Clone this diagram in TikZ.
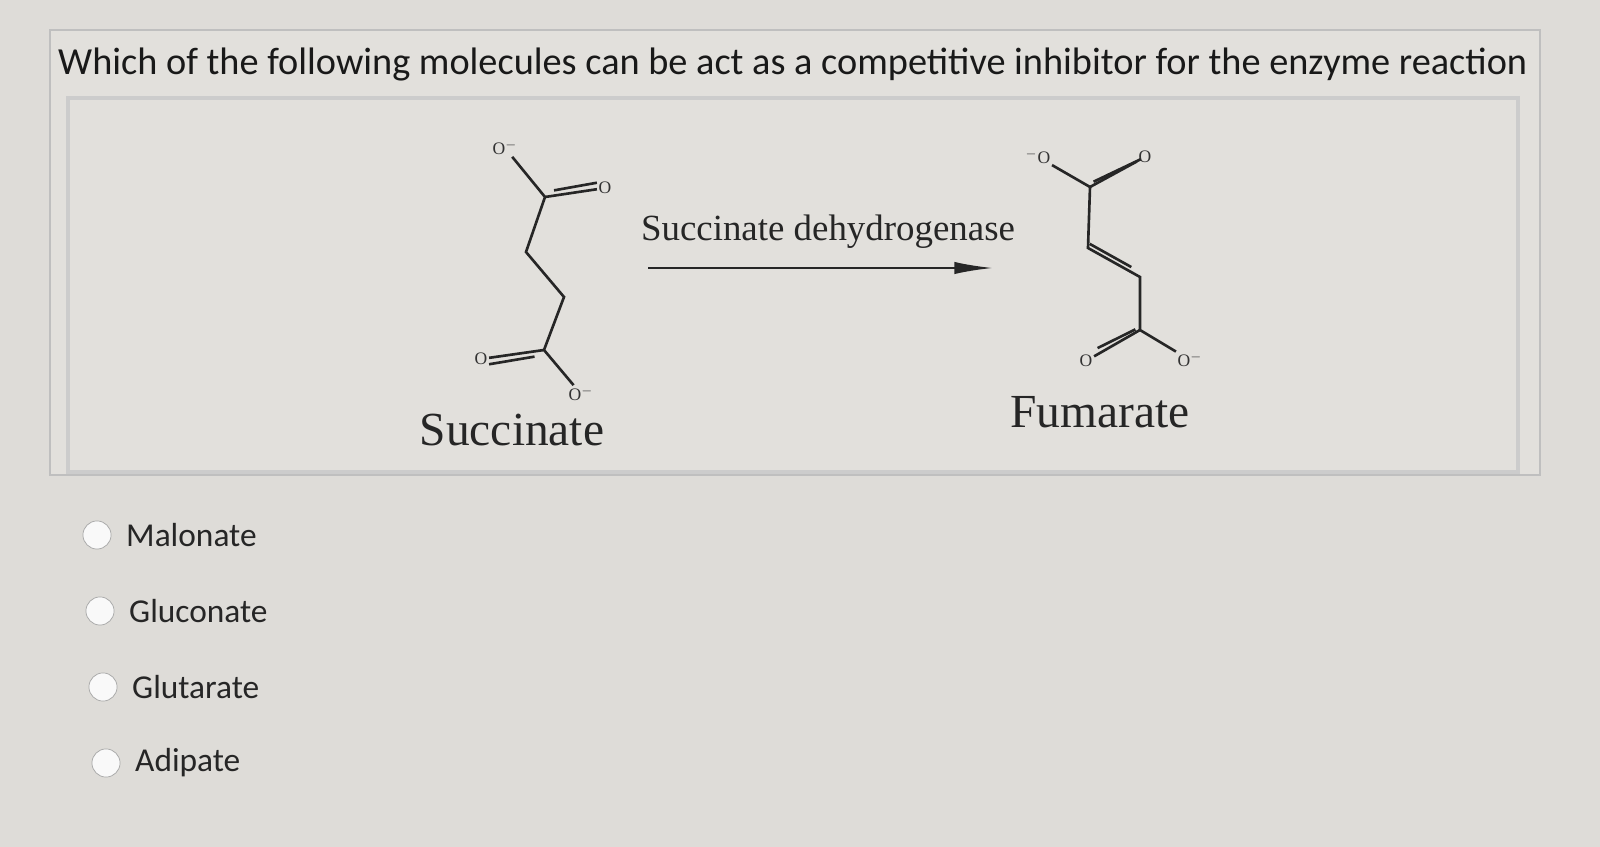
\documentclass[tikz,border=0pt]{standalone}
\usepackage{fontspec}
\setmainfont{Liberation Serif}
\newfontfamily\qfont{Carlito}
\usetikzlibrary{arrows.meta,calc}
\begin{document}
\begin{tikzpicture}[x=0.02cm,y=-0.02cm,
  bond/.style={line width=1.5pt,black!85},
  atom/.style={font=\fontsize{10}{10}\selectfont,inner sep=0.8pt,text=black!80},
  opt/.style={circle,draw=black!35,fill=white!95!gray,minimum size=16pt,inner sep=0},
  optlab/.style={font=\qfont\fontsize{19}{19}\selectfont,anchor=west,text=black!85},
  lab/.style={font=\fontsize{27}{27}\selectfont,text=black!85}]
\useasboundingbox (0,0) rectangle (1600,847);
\fill[fill={rgb,255:red,222;green,220;blue,216}] (0,0) rectangle (1600,847);
\draw[draw=black!25,line width=1pt,fill={rgb,255:red,226;green,224;blue,220}] (50,30) rectangle (1540,475);
\draw[draw=black!20,line width=2pt] (68,98) rectangle (1518,472);
\node[font=\qfont\fontsize{21.8}{22}\selectfont,anchor=west,text=black!90] (q) at (52,65) {Which of the following molecules can be act as a competitive inhibitor for the enzyme reaction};
% succinate
\coordinate (s1) at (545,197); \coordinate (s2) at (526,252);
\coordinate (s3) at (564,297); \coordinate (s4) at (544,350);
\node[atom] (so1) at (505,148) {O$^{-}$};
\node[atom] (so2) at (605,188) {O};
\node[atom] (so3) at (481,359) {O};
\node[atom] (so4) at (581,394) {O$^{-}$};
\draw[bond] (so1) -- (s1) -- (s2) -- (s3) -- (s4) -- (so4);
\draw[bond] (s1) -- (so2);
\draw[bond] ([yshift=3pt]$(s1)!0.15!(so2)$) -- ([yshift=3pt]so2.west);
\draw[bond] (s4) -- (so3);
\draw[bond] ([yshift=-3pt]$(s4)!0.15!(so3)$) -- ([yshift=-3pt]so3.east);
\node[lab] (sl) at (512,430) {Succinate};
% fumarate
\coordinate (f1) at (1090,187); \coordinate (f2) at (1088,248);
\coordinate (f3) at (1140,277); \coordinate (f4) at (1140,330);
\node[atom] (fo1) at (1038,157) {$^{-}$O};
\node[atom] (fo2) at (1145,157) {O};
\node[atom] (fo3) at (1086,361) {O};
\node[atom] (fo4) at (1190,360) {O$^{-}$};
\draw[bond] (fo1) -- (f1) -- (f2) -- (f3) -- (f4) -- (fo4);
\draw[bond] (f1) -- (fo2);
\draw[bond] ([xshift=2pt,yshift=3pt]f1) -- ([xshift=2pt,yshift=3pt]fo2.south west);
\draw[bond] ([xshift=-2pt,yshift=4pt]$(f2)!0.1!(f3)$) -- ([xshift=-2pt,yshift=4pt]$(f2)!0.9!(f3)$);
\draw[bond] (f4) -- (fo3);
\draw[bond] ([xshift=2pt,yshift=3pt]$(f4)!0.15!(fo3)$) -- ([xshift=2pt,yshift=3pt]fo3.north east);
\node[lab] (fl) at (1100,412) {Fumarate};
% arrow
\coordinate (a1) at (648,268); \coordinate (a2) at (993,268);
\draw[line width=1.3pt,black!85,-{Latex[length=22pt,width=7pt]}] (a1) -- (a2);
\node[font=\fontsize{21}{21}\selectfont,text=black!85] (en) at (828,232) {Succinate dehydrogenase};
% options
\foreach \y/\t/\dx [count=\i] in {535/Malonate/0,611/Gluconate/3,687/Glutarate/6,763/Adipate/9}{
  \node[opt] (c\i) at (97+\dx,\y) {};
  \node[optlab] (o\i) at (120+\dx,\y) {\t};
}
\end{tikzpicture}
\end{document}
